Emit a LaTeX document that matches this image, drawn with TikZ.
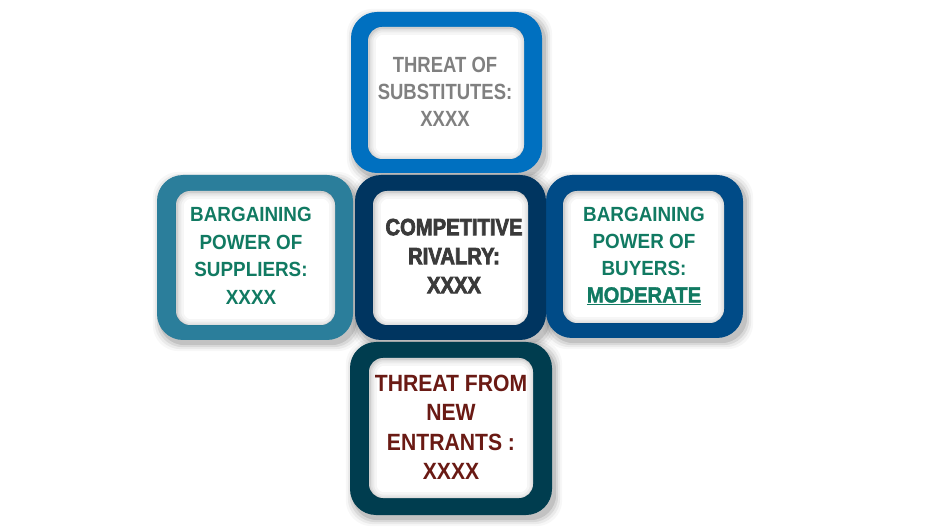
\documentclass[tikz,border=0pt]{standalone}
\usepackage{fontspec}
\setmainfont{Liberation Sans}
\newfontfamily\fTop{Liberation Sans Bold}[FakeStretch=0.84]
\newfontfamily\fGrn{Liberation Sans Bold}[FakeStretch=0.92]
\newfontfamily\fMod{Liberation Sans Bold}[FakeStretch=0.92,FakeBold=1.5]
\newfontfamily\fCen{Liberation Sans Bold}[FakeStretch=0.86,FakeBold=3]
\newfontfamily\fBot{Liberation Sans Bold}[FakeStretch=0.9]
\definecolor{cTop}{HTML}{0070C0}
\definecolor{cLeft}{HTML}{2B7E9B}
\definecolor{cCen}{HTML}{003560}
\definecolor{cRight}{HTML}{004B87}
\definecolor{cBot}{HTML}{003D4F}
\definecolor{tGrey}{HTML}{808080}
\definecolor{tGreen}{HTML}{117A62}
\definecolor{tDark}{HTML}{3A3A3A}
\definecolor{tRed}{HTML}{6A1A14}
\pgfdeclarelayer{back}
\pgfdeclarelayer{shad}
\pgfsetlayers{back,shad,main}
\begin{document}
\begin{tikzpicture}[x=1pt,y=-1pt,
  outerbox/.style={rectangle, rounded corners=26pt, inner sep=0pt},
  innerbox/.style={rectangle, rounded corners=14pt, fill=white, inner sep=0pt},
  txt/.style={align=center, inner sep=0pt},
]
\begin{pgfonlayer}{back}
\fill[white] (0,0) rectangle (940,529);
\end{pgfonlayer}
\useasboundingbox (0,0) rectangle (940,529);

% outer frames
\node[outerbox, fill=cTop, minimum width=191, minimum height=161] (topO) at (446.5,92.5) {};
\node[outerbox, fill=cLeft, minimum width=196, minimum height=165] (leftO) at (255,257.5) {};
\node[outerbox, fill=cRight, minimum width=197, minimum height=163] (rightO) at (644.5,256.5) {};
\node[outerbox, fill=cBot, minimum width=202, minimum height=173] (botO) at (451,428.5) {};
\node[outerbox, fill=cCen, minimum width=191, minimum height=165] (cenO) at (450.5,257.5) {};

% outer soft shadows
\begin{pgfonlayer}{shad}
\foreach \n in {topO,leftO,rightO,botO,cenO}{
  \foreach \e/\o in {1/0.10,3/0.07,5/0.05,7/0.03}{
    \fill[black, opacity=\o, rounded corners=26pt]
      ([shift={(3-\e,4-\e)}]\n.north west) rectangle ([shift={(3+\e,4+\e)}]\n.south east);
  }
}
\end{pgfonlayer}

% inner white panels
\node[innerbox, minimum width=156, minimum height=132] (topI) at (446,93) {};
\node[innerbox, minimum width=159, minimum height=134] (leftI) at (255.5,258) {};
\node[innerbox, minimum width=155, minimum height=134] (cenI) at (450.5,258) {};
\node[innerbox, minimum width=161, minimum height=132] (rightI) at (643.5,257) {};
\node[innerbox, minimum width=164, minimum height=140] (botI) at (451,428) {};

% inner shadows
\foreach \n in {topI,leftI,cenI,rightI,botI}{
  \begin{scope}
    \clip[rounded corners=14pt] (\n.north west) rectangle (\n.south east);
    \foreach \w/\o in {14/0.035,9/0.045,5/0.05,2/0.07}{
      \draw[black, opacity=\o, line width=\w pt, rounded corners=14pt]
        ([shift={(1,1)}]\n.north west) rectangle ([shift={(1,1)}]\n.south east);
    }
  \end{scope}
}

% texts
\node[txt, text=tGrey, font=\fTop\fontsize{22}{27}\selectfont] (topT) at (445,92)
  {THREAT OF\\SUBSTITUTES:\\XXXX};
\node[txt, text=tGreen, font=\fGrn\fontsize{20.5}{27.5}\selectfont] (leftT) at (251,256)
  {BARGAINING\\POWER OF\\SUPPLIERS:\\XXXX};
\node[txt, text=tDark, font=\fCen\fontsize{23.5}{29}\selectfont] (cenT) at (454,256)
  {COMPETITIVE\\RIVALRY:\\XXXX};
\node[txt, text=tGreen, font=\fGrn\fontsize{20.5}{27}\selectfont] (rightT) at (644,256)
  {BARGAINING\\POWER OF\\BUYERS:\\{\fMod\fontsize{22}{27}\selectfont\underline{MODERATE}}};
\node[txt, text=tRed, font=\fBot\fontsize{23.5}{29.5}\selectfont] (botT) at (451,427.5)
  {THREAT FROM\\NEW\\ENTRANTS :\\XXXX};
\end{tikzpicture}
\end{document}
